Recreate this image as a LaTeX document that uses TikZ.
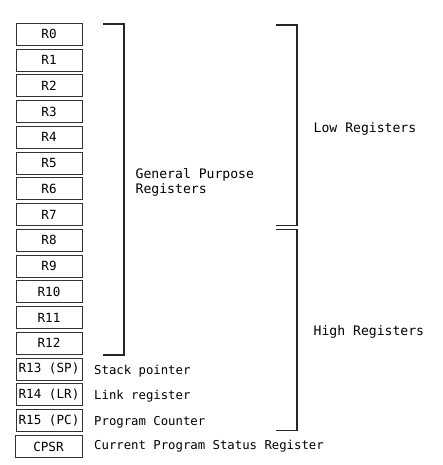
\documentclass[tikz,border=0pt]{standalone}
\usepackage{fontspec}
\setmonofont{DejaVu Sans Mono}
\begin{document}
\begin{tikzpicture}[x=1pt,y=-1pt,
  regbox/.style={draw=black!80,line width=0.9pt,minimum width=66pt,minimum height=22pt,inner sep=0pt,font=\ttfamily\fontsize{12.6}{14}\selectfont},
  lbl/.style={anchor=west,inner sep=0pt,font=\ttfamily\fontsize{12.3}{14}\selectfont},
  biglbl/.style={anchor=west,inner sep=0pt,font=\ttfamily\fontsize{13.1}{15}\selectfont},
  brk/.style={draw=black!85,line width=1.2pt}]
\useasboundingbox (0,0) rectangle (443,465);
\foreach \i in {0,...,12}{
  \node[regbox] (r\i) at (49,{23.3+25.75*\i+11}) {R\i};
}
\node[regbox] (r13) at (49,{358+11}) {R13 (SP)};
\node[regbox] (r14) at (49,{383.8+11}) {R14 (LR)};
\node[regbox] (r15) at (49,{409.5+11}) {R15 (PC)};
\node[regbox,minimum width=67pt] (cpsr) at (48.5,{435.5+11}) {CPSR};
\node[lbl] (sp) at (94,371) {Stack pointer};
\node[lbl] (lr) at (94,396) {Link register};
\node[lbl] (pc) at (94,422) {Program Counter};
\node[lbl] (st) at (94,446) {Current Program Status Register};
\node[biglbl,align=left] (gp) at (135.5,182.5) {General Purpose\\Registers};
\node[biglbl] (low) at (313.5,129) {Low Registers};
\node[biglbl] (high) at (313.5,331.5) {High Registers};
% brackets
\coordinate (g1) at (103,24); \coordinate (g2) at (124,24);
\coordinate (g3) at (124,355); \coordinate (g4) at (103,355);
\draw[brk] (g1) -- (g2) -- (g3) -- (g4);
\coordinate (l1) at (276,25); \coordinate (l2) at (297,25);
\coordinate (l3) at (297,225.5); \coordinate (l4) at (276,225.5);
\draw[brk] (l1) -- (l2) -- (l3) -- (l4);
\coordinate (h1) at (276,229.5); \coordinate (h2) at (297,229.5);
\coordinate (h3) at (297,430.5); \coordinate (h4) at (276,430.5);
\draw[brk] (h1) -- (h2) -- (h3) -- (h4);
\end{tikzpicture}
\end{document}
